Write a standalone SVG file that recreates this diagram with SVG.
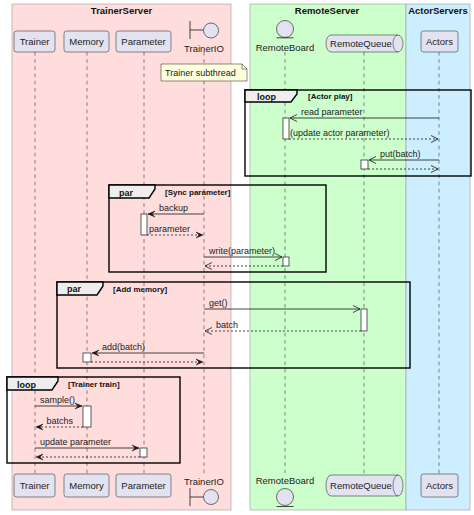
<svg xmlns="http://www.w3.org/2000/svg" width="474" height="515" viewBox="0 0 474 515">
<defs>
<style>
text{font-family:"Liberation Sans",Arial,sans-serif;fill:#111}
.bt{font-size:9.5px;font-weight:bold;text-anchor:middle}
.pn{font-size:9.5px;text-anchor:middle;fill:#222}
.msg{font-size:9px;fill:#222}
.gk{font-size:9px;font-weight:bold}
.gc{font-size:8px;font-weight:bold}
.pbox{fill:#E2E2F0;stroke:#181818;stroke-width:0.5}
.life{stroke:#181818;stroke-width:0.5;stroke-dasharray:3.6,3.6;fill:none}
.act{fill:#fff;stroke:#181818;stroke-width:0.7}
.ln{stroke:#181818;stroke-width:0.8;fill:none}
.dl{stroke:#181818;stroke-width:0.8;fill:none;stroke-dasharray:2,2}
.frame{fill:none;stroke:#000;stroke-width:1.4}
.tab{fill:#EEEEEE;stroke:#000;stroke-width:1.4}
.open{stroke:#181818;stroke-width:0.8;fill:none}
.fill{fill:#181818;stroke:#181818;stroke-width:0.5}
</style>
</defs>

<g id="boxes">
<rect x="12" y="4" width="219" height="506" fill="#FFDDDD" stroke="#999" stroke-width="0.6"/>
<text class="bt" x="121.5" y="14">TrainerServer</text>
<rect x="250" y="4" width="156" height="506" fill="#CCFFCC" stroke="#999" stroke-width="0.6"/>
<text class="bt" x="327" y="14">RemoteServer</text>
<rect x="406" y="4" width="64" height="506" fill="#CCEEFF" stroke="#999" stroke-width="0.6"/>
<text class="bt" x="438" y="14">ActorServers</text>
</g>

<g id="lifelines">
<line class="life" x1="35" y1="52" x2="35" y2="474"/>
<line class="life" x1="87" y1="52" x2="87" y2="474"/>
<line class="life" x1="144" y1="52" x2="144" y2="474"/>
<line class="life" x1="204" y1="52" x2="204" y2="474"/>
<line class="life" x1="285" y1="52" x2="285" y2="474"/>
<line class="life" x1="364" y1="52" x2="364" y2="474"/>
<line class="life" x1="439" y1="52" x2="439" y2="474"/>
</g>

<g id="Trainer">
<rect class="pbox" x="14" y="31" width="41" height="21" rx="2.5"/>
<text class="pn" x="34.5" y="45">Trainer</text>
<rect class="pbox" x="14" y="474" width="41" height="23" rx="2.5"/>
<text class="pn" x="34.5" y="489">Trainer</text>
</g>
<g id="Memory">
<rect class="pbox" x="64" y="31" width="45" height="21" rx="2.5"/>
<text class="pn" x="86.5" y="45">Memory</text>
<rect class="pbox" x="64" y="474" width="45" height="23" rx="2.5"/>
<text class="pn" x="86.5" y="489">Memory</text>
</g>
<g id="Parameter">
<rect class="pbox" x="116" y="31" width="55" height="21" rx="2.5"/>
<text class="pn" x="143.5" y="45">Parameter</text>
<rect class="pbox" x="116" y="474" width="55" height="23" rx="2.5"/>
<text class="pn" x="143.5" y="489">Parameter</text>
</g>
<g id="TrainerIO">
<line x1="190" y1="21" x2="190" y2="39" stroke="#181818" stroke-width="0.8"/>
<line x1="190" y1="30" x2="203.5" y2="30" stroke="#181818" stroke-width="0.8"/>
<circle cx="211" cy="30.5" r="7.5" fill="#E2E2F0" stroke="#181818" stroke-width="0.6"/>
<text class="pn" x="204" y="52">TrainerIO</text>
<text class="pn" x="204" y="485">TrainerIO</text>
<line x1="190" y1="488" x2="190" y2="506" stroke="#181818" stroke-width="0.8"/>
<line x1="190" y1="497" x2="203.5" y2="497" stroke="#181818" stroke-width="0.8"/>
<circle cx="211" cy="497" r="7.5" fill="#E2E2F0" stroke="#181818" stroke-width="0.6"/>
</g>
<g id="RemoteBoard">
<circle cx="285" cy="29" r="8.5" fill="#E2E2F0" stroke="#181818" stroke-width="0.6"/>
<line x1="276.5" y1="37.8" x2="293.5" y2="37.8" stroke="#181818" stroke-width="0.8"/>
<text class="pn" x="285" y="51">RemoteBoard</text>
<text class="pn" x="285" y="484">RemoteBoard</text>
<circle cx="285" cy="497" r="8.5" fill="#E2E2F0" stroke="#181818" stroke-width="0.6"/>
<line x1="276.5" y1="506.5" x2="293.5" y2="506.5" stroke="#181818" stroke-width="0.8"/>
</g>
<g id="RemoteQueue">
<path d="M331,35 H398 A5,8.5 0 0 1 398,52 H331 A5,8.5 0 0 1 331,35 Z" fill="#E2E2F0" stroke="#181818" stroke-width="0.5"/>
<path d="M398,35 A5,8.5 0 0 0 398,52" fill="none" stroke="#181818" stroke-width="0.5"/>
<text class="pn" x="361" y="47">RemoteQueue</text>
<path d="M331,475 H398 A5,10.5 0 0 1 398,496 H331 A5,10.5 0 0 1 331,475 Z" fill="#E2E2F0" stroke="#181818" stroke-width="0.5"/>
<path d="M398,475 A5,10.5 0 0 0 398,496" fill="none" stroke="#181818" stroke-width="0.5"/>
<text class="pn" x="361" y="489">RemoteQueue</text>
</g>
<g id="Actors">
<rect class="pbox" x="421" y="31" width="37" height="21" rx="2.5"/>
<text class="pn" x="439.5" y="45">Actors</text>
<rect class="pbox" x="421" y="474" width="37" height="23" rx="2.5"/>
<text class="pn" x="439.5" y="489">Actors</text>
</g>

<g id="note">
<path d="M161,64 H242 L247,69 V81 H161 Z" fill="#FEFFDD" stroke="#181818" stroke-width="0.5"/>
<path d="M242,64 V69 H247" fill="none" stroke="#181818" stroke-width="0.5"/>
<text class="msg" x="165" y="76">Trainer subthread</text>
</g>

<g id="groups">
<rect class="frame" x="245" y="90" width="226" height="86"/>
<polygon class="tab" points="245,90 297,90 297,94 291,102 245,102"/>
<text class="gk" x="257" y="100">loop</text>
<text class="gc" x="308" y="99">[Actor play]</text>

<rect class="frame" x="109" y="185" width="217" height="87"/>
<polygon class="tab" points="109,185 155,185 155,189 149,198 109,198"/>
<text class="gk" x="119" y="196">par</text>
<text class="gc" x="165" y="195">[Sync parameter]</text>

<rect class="frame" x="57" y="282" width="353" height="86"/>
<polygon class="tab" points="57,282 103,282 103,286 97,295 57,295"/>
<text class="gk" x="67" y="292">par</text>
<text class="gc" x="113" y="292">[Add memory]</text>

<rect class="frame" x="7" y="377" width="173" height="86"/>
<polygon class="tab" points="7,377 58,377 58,381 52,390 7,390"/>
<text class="gk" x="17" y="388">loop</text>
<text class="gc" x="68" y="387">[Trainer train]</text>
</g>

<g id="activations">
<rect class="act" x="283" y="118" width="6" height="21"/>
<rect class="act" x="361" y="160" width="7" height="9"/>
<rect class="act" x="141" y="214" width="6" height="21"/>
<rect class="act" x="283" y="257" width="6" height="9"/>
<rect class="act" x="361" y="309" width="6" height="22"/>
<rect class="act" x="83" y="353" width="8" height="9"/>
<rect class="act" x="83" y="406" width="8" height="21"/>
<rect class="act" x="140" y="448" width="7" height="9"/>
</g>

<g id="connectors">
<line class="ln" x1="439" y1="118" x2="290" y2="118"/>
<path class="open" d="M297,114.5 L290,118 L297,121.5"/>
<text class="msg" x="301" y="115">read parameter</text>
<line class="dl" x1="289" y1="139" x2="438" y2="139"/>
<path class="open" d="M431,135.5 L438,139 L431,142.5"/>
<text class="msg" x="290" y="136">(update actor parameter)</text>
<line class="ln" x1="439" y1="160" x2="369" y2="160"/>
<path class="open" d="M376,156.5 L369,160 L376,163.5"/>
<text class="msg" x="380" y="157">put(batch)</text>
<line class="dl" x1="368" y1="169" x2="438" y2="169"/>
<path class="open" d="M431,165.5 L438,169 L431,172.5"/>

<line class="ln" x1="204" y1="214" x2="148" y2="214"/>
<polygon class="fill" points="148,214 155,211 152,214 155,217"/>
<text class="msg" x="159" y="211">backup</text>
<line class="dl" x1="147" y1="235" x2="203" y2="235"/>
<polygon class="fill" points="203,235 196,232 199,235 196,238"/>
<text class="msg" x="149" y="232">parameter</text>
<line class="ln" x1="204" y1="257" x2="282" y2="257"/>
<path class="open" d="M275,253.5 L282,257 L275,260.5"/>
<text class="msg" x="209" y="254">write(parameter)</text>
<line class="dl" x1="283" y1="266" x2="205" y2="266"/>
<path class="open" d="M212,262.5 L205,266 L212,269.5"/>

<line class="ln" x1="204" y1="309" x2="360" y2="309"/>
<path class="open" d="M353,305.5 L360,309 L353,312.5"/>
<text class="msg" x="209" y="306">get()</text>
<line class="dl" x1="361" y1="331" x2="205" y2="331"/>
<path class="open" d="M212,327.5 L205,331 L212,334.5"/>
<text class="msg" x="216" y="328">batch</text>
<line class="ln" x1="204" y1="353" x2="92" y2="353"/>
<polygon class="fill" points="92,353 99,350 96,353 99,356"/>
<text class="msg" x="102" y="350">add(batch)</text>
<line class="dl" x1="91" y1="362" x2="203" y2="362"/>
<polygon class="fill" points="203,362 196,359 199,362 196,365"/>

<line class="ln" x1="35" y1="406" x2="82" y2="406"/>
<polygon class="fill" points="82,406 75,403 78,406 75,409"/>
<text class="msg" x="40" y="403">sample()</text>
<line class="dl" x1="83" y1="427" x2="36" y2="427"/>
<polygon class="fill" points="36,427 43,424 40,427 43,430"/>
<text class="msg" x="46.5" y="424">batchs</text>
<line class="ln" x1="35" y1="448" x2="139" y2="448"/>
<polygon class="fill" points="139,448 132,445 135,448 132,451"/>
<text class="msg" x="40" y="445">update parameter</text>
<line class="dl" x1="140" y1="457" x2="36" y2="457"/>
<polygon class="fill" points="36,457 43,454 40,457 43,460"/>
</g>
</svg>
